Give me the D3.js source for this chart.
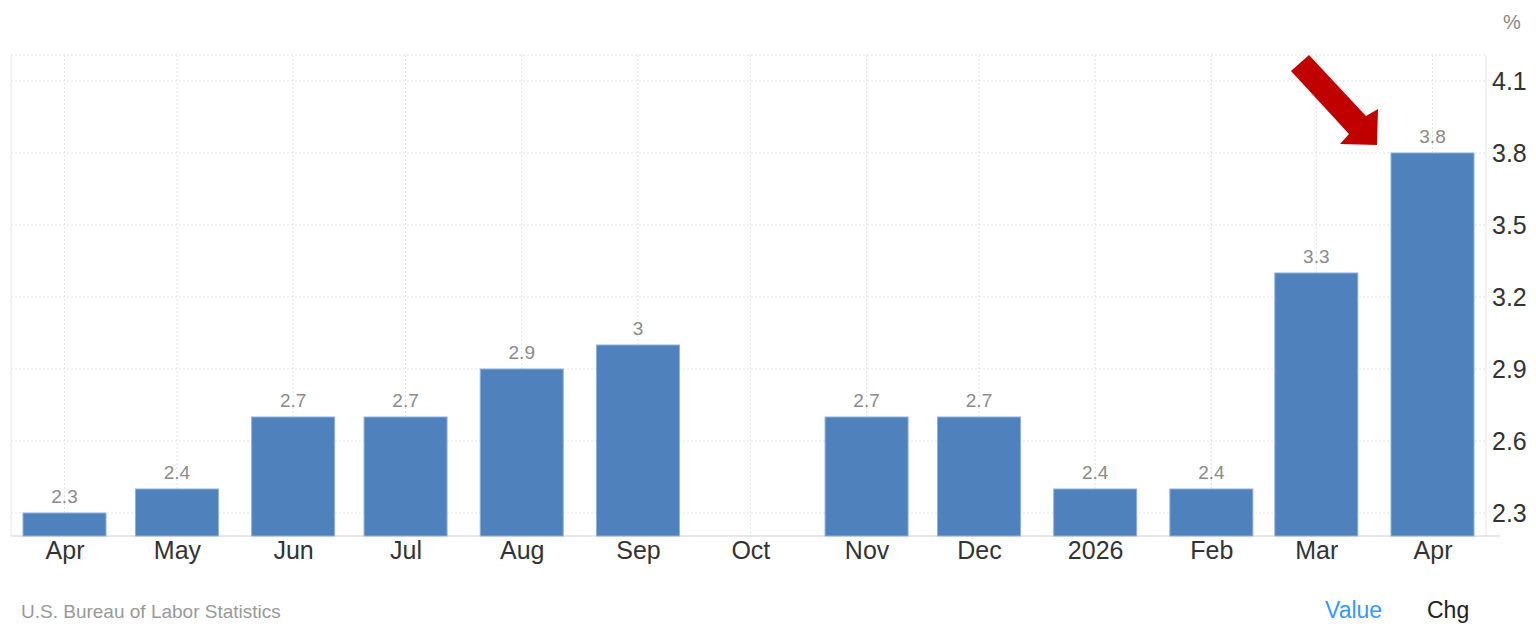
<!DOCTYPE html>
<html><head><meta charset="utf-8">
<script src="https://cdn.jsdelivr.net/npm/d3@7"></script>
<style>html,body{margin:0;padding:0;background:#fff;}svg{display:block;font-family:"Liberation Sans",Arial,sans-serif;}</style>
</head><body>
<svg id="c" width="1536" height="637"></svg>
<script>
const months = ["2025-04-01","2025-05-01","2025-06-01","2025-07-01","2025-08-01","2025-09-01","2025-10-01","2025-11-01","2025-12-01","2026-01-01","2026-02-01","2026-03-01","2026-04-01"];
const tickLabels = ["Apr","May","Jun","Jul","Aug","Sep","Oct","Nov","Dec","2026","Feb","Mar","Apr"];
const values = [2.3,2.4,2.7,2.7,2.9,3,null,2.7,2.7,2.4,2.4,3.3,3.8];
const yTicks = [2.3,2.6,2.9,3.2,3.5,3.8,4.1];

const parse = d3.utcParse("%Y-%m-%d");
const dates = months.map(parse);
const svg = d3.select("#c");
const L = 11, R = 1486, T = 55, B = 536;

const x = d3.scaleUtc().domain([dates[0], dates[dates.length-1]]).range([64.5, 1432.5]);
const y = d3.scaleLinear().domain([2.2042, 4.2083]).range([B, T]);
const bw = 83;

// grid
const g = svg.append("g");
g.selectAll("line.h").data(yTicks.concat([y.invert(T)])).join("line")
  .attr("x1", L).attr("x2", R).attr("y1", d => y(d)).attr("y2", d => y(d))
  .attr("stroke", "#e3e3e3").attr("stroke-dasharray", "2,2");
g.selectAll("line.v").data(dates).join("line")
  .attr("x1", d => x(d)).attr("x2", d => x(d)).attr("y1", T).attr("y2", B)
  .attr("stroke", "#e3e3e3").attr("stroke-dasharray", "2,2");
// frame
svg.append("line").attr("x1", L).attr("x2", L).attr("y1", T).attr("y2", B).attr("stroke", "#e6e6e6");
svg.append("line").attr("x1", R).attr("x2", R).attr("y1", T).attr("y2", B).attr("stroke", "#e6e6e6");
svg.append("line").attr("x1", L).attr("x2", 1500).attr("y1", B).attr("y2", B).attr("stroke", "#e0e0e0").attr("stroke-width", 1.5);

const data = dates.map((d, i) => ({d, v: values[i], label: tickLabels[i]}));
const bars = data.filter(d => d.v != null);
svg.append("g").selectAll("rect").data(bars).join("rect")
  .attr("x", d => x(d.d) - bw/2).attr("width", bw)
  .attr("y", d => y(d.v)).attr("height", d => B - y(d.v))
  .attr("fill", "#4f81bd").attr("stroke", "#8fb0da").attr("stroke-width", 1);
svg.append("g").selectAll("text").data(bars).join("text")
  .attr("x", d => x(d.d)).attr("y", d => y(d.v) - 10)
  .attr("text-anchor", "middle").attr("font-size", 19).attr("fill", "#8a8a8a")
  .text(d => d3.format("~g")(d.v));

// x axis
const xa = svg.append("g").attr("transform", `translate(0,${B})`)
  .call(d3.axisBottom(x).tickValues(dates).tickSize(0).tickFormat((d, i) => tickLabels[i]));
xa.select(".domain").remove();
xa.selectAll("text").attr("font-size", 25).attr("fill", "#333").attr("dy", 0).attr("y", 23)
  .attr("font-family", "'Liberation Sans',Arial,sans-serif");

// y axis
const ya = svg.append("g").attr("transform", `translate(${R},0)`)
  .call(d3.axisRight(y).tickValues(yTicks).tickSize(0).tickPadding(6).tickFormat(d3.format(".1f")));
ya.select(".domain").remove();
ya.selectAll("text").attr("font-size", 25).attr("fill", "#333").attr("dy", "0.35em")
  .attr("font-family", "'Liberation Sans',Arial,sans-serif");

svg.append("text").attr("x", 1503).attr("y", 29).attr("font-size", 20).attr("fill", "#888").text("%");

// arrow annotation pointing at the last bar
const last = bars[bars.length-1];
const tx = x(last.d) - bw/2 - 14, ty = y(last.v) - 8;
const arrow = [[-86,-74],[-68,-90],[-11,-29],[1,-36],[0,0],[-37,-1],[-28,-11]];
svg.append("path").attr("d", d3.line()(arrow.map(p => [tx + p[0], ty + p[1]])) + "Z").attr("fill", "#c00000");

svg.append("text").attr("x", 21).attr("y", 618).attr("font-size", 19).attr("fill", "#999").text("U.S. Bureau of Labor Statistics");
svg.append("text").attr("x", 1325).attr("y", 618).attr("font-size", 23).attr("fill", "#3399ff").text("Value");
svg.append("text").attr("x", 1427).attr("y", 618).attr("font-size", 23).attr("fill", "#222").text("Chg");
</script>
</body></html>
